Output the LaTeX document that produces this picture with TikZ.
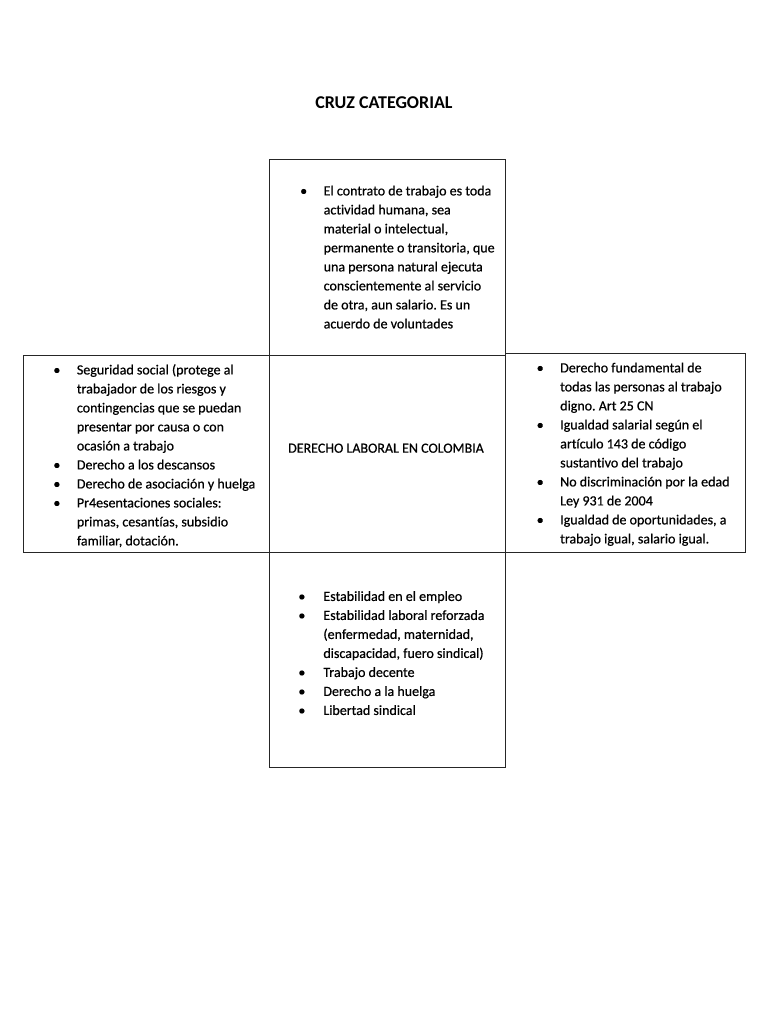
\documentclass[tikz,border=0pt]{standalone}
\usepackage{fontspec}
\setmainfont{Carlito}[Ligatures=NoCommon]
\newfontfamily\bodyfont{Carlito}[FakeBold=0.5,Ligatures=NoCommon]
\newcommand\itm[1]{\makebox[#1][l]{\textbullet}}
\newcommand\cnt[1]{\hspace*{#1}}
\frenchspacing
\begin{document}
\begin{tikzpicture}[x=1pt,y=-1pt,
  box/.style={draw=black!85,line width=0.9pt,anchor=north west,inner sep=0pt,outer sep=0pt},
  txt/.style={anchor=north west,inner sep=0pt,align=left,font=\bodyfont\fontsize{14}{19}\selectfont},
  ttl/.style={anchor=base,inner sep=0pt,font=\fontsize{18}{22}\selectfont\bfseries},
  mid/.style={anchor=base,inner sep=0pt,font=\bodyfont\fontsize{14}{19}\selectfont}]
\useasboundingbox (0,0) rectangle (768,1024);
\fill[white] (0,0) rectangle (768,1024);
\node[ttl] (title) at (384,108.3) {CRUZ CATEGORIAL};
\node[box,minimum width=236.5pt,minimum height=196pt] (topbox) at (269,159) {};
\node[box,minimum width=236.5pt,minimum height=197.7pt] (center) at (269,355) {};
\node[box,minimum width=246pt,minimum height=197.4pt] (leftbox) at (23,355.3) {};
\node[box,minimum width=239.5pt,minimum height=199.7pt] (rightbox) at (505.5,353) {};
\node[box,minimum width=236.5pt,minimum height=214.3pt] (bottombox) at (269,552.7) {};
\node[mid] (midtext) at (386,452.7) {DERECHO LABORAL EN COLOMBIA};
\node[txt] (toptext) at (300,185.5) {\itm{23.5pt}El contrato de trabajo es toda\\
\cnt{23.5pt}actividad humana, sea\\
\cnt{23.5pt}material o intelectual,\\
\cnt{23.5pt}permanente o transitoria, que\\
\cnt{23.5pt}una persona natural ejecuta\\
\cnt{23.5pt}conscientemente al servicio\\
\cnt{23.5pt}de otra, aun salario. Es un\\
\cnt{23.5pt}acuerdo de voluntades};
\node[txt] (lefttext) at (53.2,364) {\itm{23.5pt}Seguridad social (protege al\\
\cnt{23.5pt}trabajador de los riesgos y\\
\cnt{23.5pt}contingencias que se puedan\\
\cnt{23.5pt}presentar por causa o con\\
\cnt{23.5pt}ocasión a trabajo\\
\itm{23.5pt}Derecho a los descansos\\
\itm{23.5pt}Derecho de asociación y huelga\\
\itm{23.5pt}Pr4esentaciones sociales:\\
\cnt{23.5pt}primas, cesantías, subsidio\\
\cnt{23.5pt}familiar, dotación.};
\node[txt] (righttext) at (536.5,362.5) {\itm{23.5pt}Derecho fundamental de\\
\cnt{23.5pt}todas las personas al trabajo\\
\cnt{23.5pt}digno. Art 25 CN\\
\itm{23.5pt}Igualdad salarial según el\\
\cnt{23.5pt}artículo 143 de código\\
\cnt{23.5pt}sustantivo del trabajo\\
\itm{23.5pt}No discriminación por la edad\\
\cnt{23.5pt}Ley 931 de 2004\\
\itm{23.5pt}Igualdad de oportunidades, a\\
\cnt{23.5pt}trabajo igual, salario igual.};
\node[txt] (bottomtext) at (298.2,591) {\itm{25pt}Estabilidad en el empleo\\
\itm{25pt}Estabilidad laboral reforzada\\
\cnt{25pt}(enfermedad, maternidad,\\
\cnt{25pt}discapacidad, fuero sindical)\\
\itm{25pt}Trabajo decente\\
\itm{25pt}Derecho a la huelga\\
\itm{25pt}Libertad sindical};
\end{tikzpicture}
\end{document}
